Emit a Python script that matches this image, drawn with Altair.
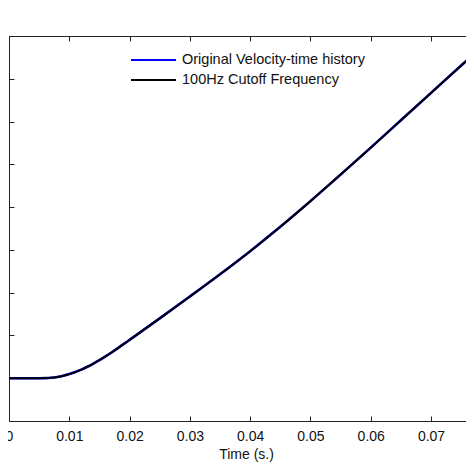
import altair as alt
import pandas as pd

# data
time_s = [0, 0.005, 0.006, 0.007, 0.008, 0.009, 0.010, 0.011, 0.012, 0.013,
          0.014, 0.015, 0.016, 0.017, 0.018, 0.019, 0.020, 0.025, 0.030, 0.035,
          0.040, 0.045, 0.050, 0.055, 0.060, 0.065, 0.070, 0.075, 0.078]
velocity_original = [0, 0, 0.003, 0.012, 0.030, 0.058, 0.096, 0.144, 0.202, 0.268,
                     0.342, 0.423, 0.510, 0.602, 0.698, 0.797, 0.897, 1.40, 1.91, 2.43,
                     2.97, 3.54, 4.14, 4.76, 5.39, 6.03, 6.67, 7.31, 7.69]
velocity_filtered = [0, 0, 0.003, 0.012, 0.030, 0.058, 0.096, 0.144, 0.202, 0.268,
                     0.342, 0.423, 0.510, 0.602, 0.698, 0.797, 0.897, 1.40, 1.91, 2.43,
                     2.97, 3.54, 4.14, 4.76, 5.39, 6.03, 6.67, 7.31, 7.69]
series_names = ["Original Velocity-time history", "100Hz Cutoff Frequency"]
series_colors = ["#0000ff", "#000000"]
x_ticks = [0, 0.01, 0.02, 0.03, 0.04, 0.05, 0.06, 0.07]
y_ticks = [-1, 0, 1, 2, 3, 4, 5, 6, 7, 8]

df_orig = pd.DataFrame({"t": time_s, "v": velocity_original, "series": series_names[0]})
df_filt = pd.DataFrame({"t": time_s, "v": velocity_filtered, "series": series_names[1]})

FONT = "Liberation Sans"
AX = "#222222"

xscale = alt.Scale(domain=[0, 0.0758], nice=False, zero=False)
yscale = alt.Scale(domain=[-1, 8], nice=False, zero=False)
cscale = alt.Scale(domain=series_names, range=series_colors)

# bottom axis: frame line + labels + title
x_bottom_main = alt.Axis(
    orient="bottom", values=x_ticks, format="~g", ticks=False, domain=True,
    domainColor=AX, labelPadding=8, labelFontSize=14, labelFont=FONT,
    labelColor="#111111", grid=False, title="Time (s.)", titleFont=FONT,
    titleFontSize=14, titleFontWeight="normal", titleColor="#111111",
    titlePadding=4, titleX=237, labelFlush=False, labelOverlap=False,
)
# bottom inward ticks
x_bottom_ticks = alt.Axis(
    orient="bottom", values=x_ticks, offset=-5, tickSize=5, domain=False,
    labels=False, title=None, tickColor=AX, grid=False,
)
# top frame line
x_top_main = alt.Axis(
    orient="top", values=x_ticks, ticks=False, domain=True, domainColor=AX,
    labels=False, title=None, grid=False,
)
# top inward ticks
x_top_ticks = alt.Axis(
    orient="top", values=x_ticks, offset=-5, tickSize=5, domain=False,
    labels=False, title=None, tickColor=AX, grid=False,
)
y_left_main = alt.Axis(
    orient="left", values=y_ticks, ticks=False, domain=True, domainColor=AX,
    labels=False, title=None, grid=False,
)
y_left_ticks = alt.Axis(
    orient="left", values=y_ticks, offset=-5, tickSize=5, domain=False,
    labels=False, title=None, tickColor=AX, grid=False,
)

legend = alt.Legend(
    orient="none", legendX=121, legendY=14, title=None, symbolType="stroke",
    symbolSize=2025, symbolStrokeWidth=2, labelFontSize=14.5, labelFont=FONT,
    labelColor="#111111", labelOffset=5, padding=0, rowPadding=0, clipHeight=20,
    labelLimit=0,
)

line_orig = alt.Chart(df_orig).mark_line(strokeWidth=2.6, clip=True, interpolate="monotone").encode(
    x=alt.X("t:Q", scale=xscale, axis=x_bottom_main),
    y=alt.Y("v:Q", scale=yscale, axis=y_left_main),
    color=alt.Color("series:N", scale=cscale, legend=legend, sort=series_names),
)
line_filt = alt.Chart(df_filt).mark_line(strokeWidth=2, clip=True, interpolate="monotone").encode(
    x=alt.X("t:Q", scale=xscale, axis=x_bottom_ticks),
    y=alt.Y("v:Q", scale=yscale, axis=y_left_ticks),
    color=alt.Color("series:N", scale=cscale, legend=legend, sort=series_names),
)
frame_top = alt.Chart(df_filt).mark_line(opacity=0, clip=True).encode(
    x=alt.X("t:Q", scale=xscale, axis=x_top_main),
    y=alt.Y("v:Q", scale=yscale, axis=None),
)
ticks_top = alt.Chart(df_filt).mark_line(opacity=0, clip=True).encode(
    x=alt.X("t:Q", scale=xscale, axis=x_top_ticks),
    y=alt.Y("v:Q", scale=yscale, axis=None),
)

chart = alt.layer(line_orig, line_filt, frame_top, ticks_top).resolve_axis(
    x="independent", y="independent"
).properties(
    width=457, height=385,
    autosize=alt.AutoSizeParams(type="none"),
    padding={"left": 1, "top": 28, "right": 0, "bottom": 41},
    background="white",
).configure_view(stroke=None)

chart.save("out.html", embed_options={"renderer": "svg", "actions": False})
